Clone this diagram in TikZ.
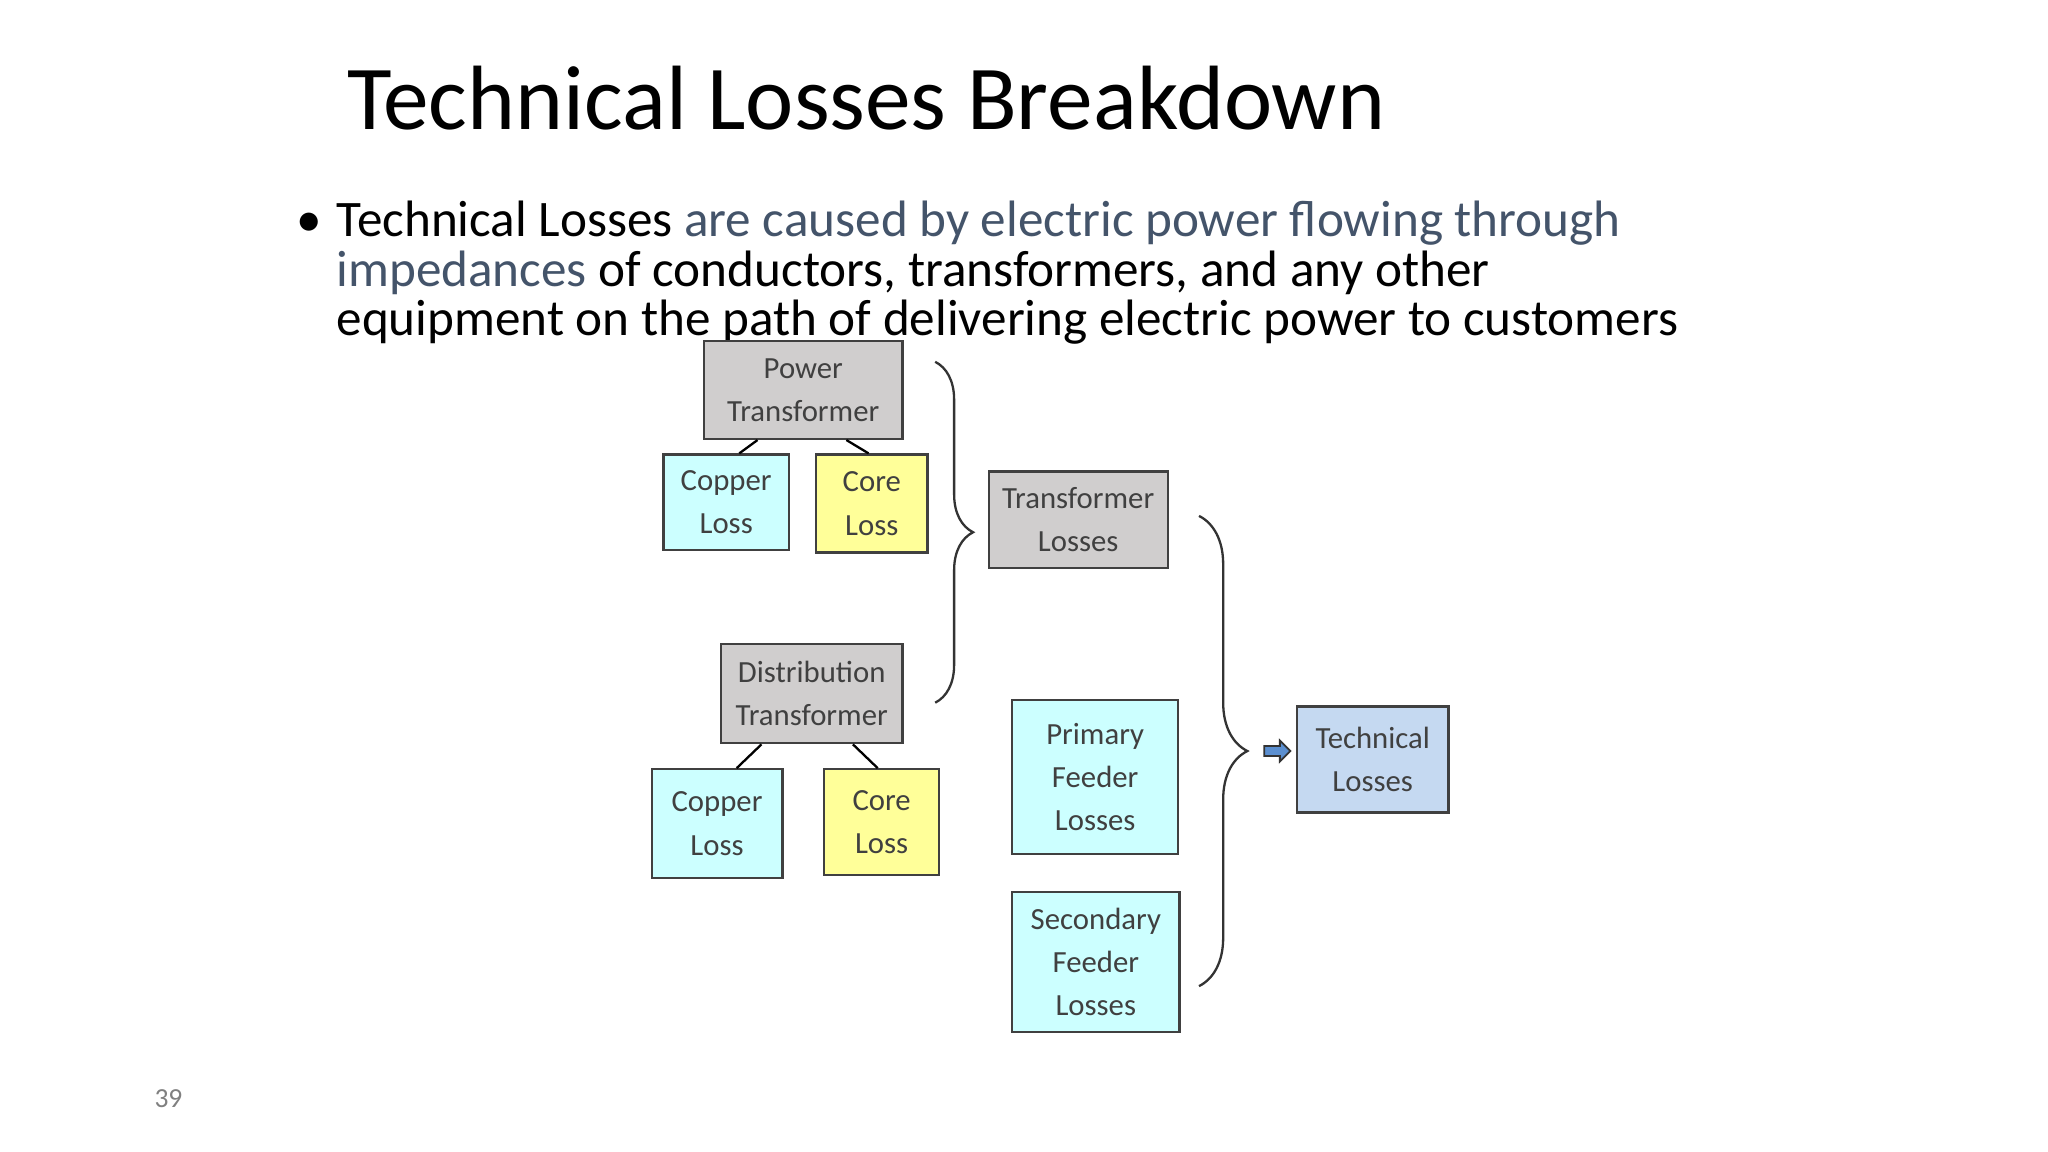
\documentclass[tikz,border=0pt]{standalone}
\usepackage{fontspec}
\setmainfont{Carlito}
\usetikzlibrary{decorations.pathreplacing,shapes.arrows}
\definecolor{gbox}{HTML}{D0CECE}
\definecolor{cbox}{HTML}{CCFFFF}
\definecolor{ybox}{HTML}{FFFF99}
\definecolor{bbox}{HTML}{C5D9F1}
\definecolor{btxt}{HTML}{44546A}
\definecolor{boxtxt}{HTML}{404040}
\definecolor{arrc}{HTML}{5B8FD0}
\tikzset{
 lbox/.style={draw=black!75,line width=0.5pt,text=boxtxt,font=\fontsize{6.7pt}{3.3mm}\selectfont,align=center,inner sep=0pt,text depth=0pt},
 btext/.style={anchor=base west,font=\fontsize{11.15pt}{13pt}\selectfont,inner sep=0pt},
 brc/.style={decorate,decoration={brace,amplitude=#1},line width=0.5pt,draw=black!80},
}
\begin{document}
\begin{tikzpicture}[x=0.1mm,y=-0.1mm]
\useasboundingbox[fill=white] (0,0) rectangle (1568,882);
\node[anchor=west,font=\fontsize{19.9pt}{23pt}\selectfont,inner sep=0pt] (title) at (265,75) {Technical Losses Breakdown};
\node[btext] (l1) at (257,181) {Technical Losses \textcolor{btxt}{are caused by electric power flowing through}};
\node[btext] (l2) at (257,219) {\textcolor{btxt}{impedances} of conductors, transformers, and any other};
\node[btext] (l3) at (257,257) {equipment on the path of delivering electric power to customers};
\node[btext] (dot) at (226,181) {•};
\newcommand{\bx}[7]{\node[lbox,fill=#6,minimum width=#4*0.1mm,minimum height=#5*0.1mm] (#1) at (#2,#3) {#7};}
\bx{pt}{615}{298.5}{152}{75}{gbox}{Power\\Transformer}
\bx{cl1}{556}{384.5}{96}{73}{cbox}{Copper\\Loss}
\bx{co1}{667.5}{385.5}{85}{75}{ybox}{Core\\Loss}
\bx{tl}{825.5}{398}{137}{74}{gbox}{Transformer\\Losses}
\bx{dt}{621.5}{531}{139}{76}{gbox}{Distribution\\Transformer}
\bx{cl2}{549}{630.5}{100}{83}{cbox}{Copper\\Loss}
\bx{co2}{675}{629.5}{88}{81}{ybox}{Core\\Loss}
\bx{pf}{838.5}{595}{127}{118}{cbox}{Primary\\Feeder\\Losses}
\bx{sf}{839}{736.5}{128}{107}{cbox}{Secondary\\Feeder\\Losses}
\bx{tech}{1051}{581.5}{116}{81}{bbox}{Technical\\Losses}
\draw[line width=0.5pt] (pt.south -| 580,0) -- (cl1.north -| 566,0);
\draw[line width=0.5pt] (pt.south -| 648,0) -- (co1.north -| 665,0);
\draw[line width=0.5pt] (dt.south -| 583,0) -- (cl2.north -| 564,0);
\draw[line width=0.5pt] (dt.south -| 653,0) -- (co2.north -| 672,0);
\coordinate (b1t) at (716,277); \coordinate (b1b) at (716,538);
\coordinate (b2t) at (918,395); \coordinate (b2b) at (918,755);
\draw[brc=2.9mm] (b1t) -- (b1b);
\draw[brc=3.7mm] (b2t) -- (b2b);
\node[single arrow,draw=black!80,fill=arrc,minimum height=2mm,minimum width=1.6mm,single arrow head extend=0.4mm,inner sep=0.3mm,line width=0.4pt] (arr) at (976,575) {};
\node[text=black!50,font=\fontsize{6pt}{7pt}\selectfont] (pg) at (129,841) {39};
\end{tikzpicture}
\end{document}
